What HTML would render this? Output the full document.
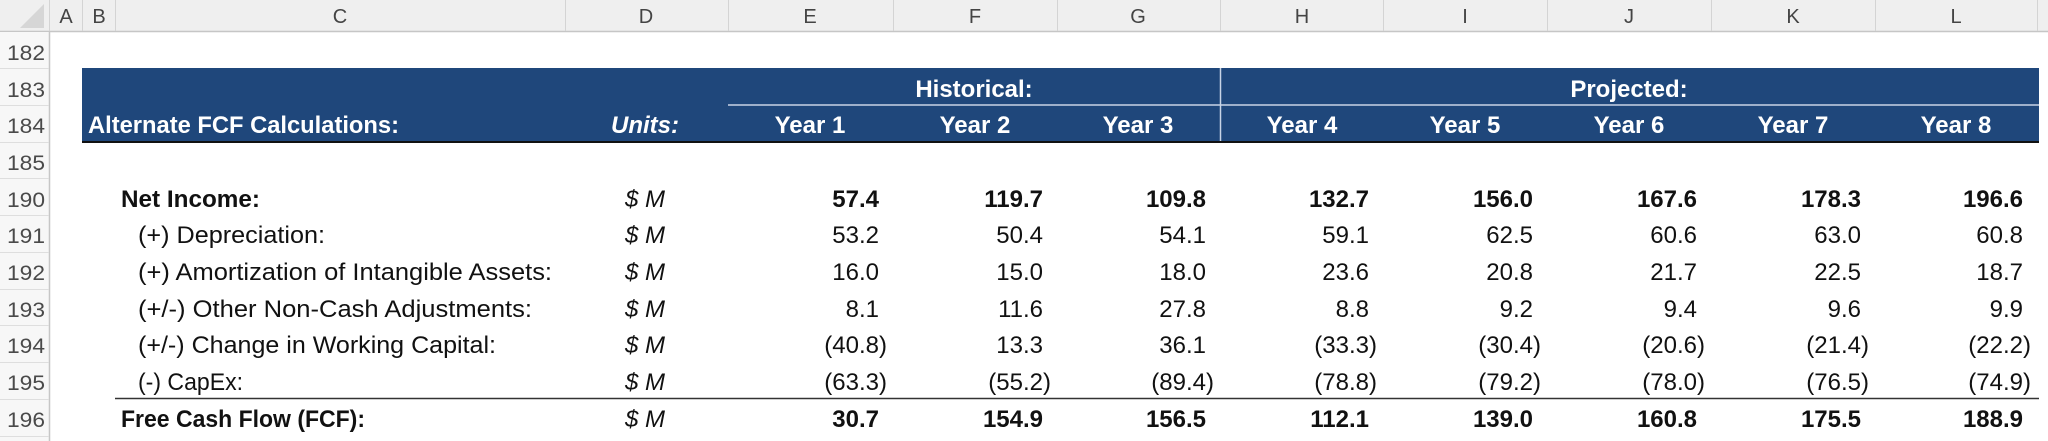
<!DOCTYPE html>
<html><head><meta charset="utf-8"><style>
html,body{margin:0;padding:0;background:#fff;}
svg{display:block;}
text{font-family:"Liberation Sans",Arial,sans-serif;}
</style></head><body>
<svg width="2048" height="441" viewBox="0 0 2048 441" xmlns="http://www.w3.org/2000/svg">
<!-- column header -->
<rect x="0" y="0" width="2048" height="31" fill="#efefef"/>
<line x1="0" y1="31.5" x2="2048" y2="31.5" stroke="#c6c6c6" stroke-width="1.5"/>
<polygon points="44,4 44,28 20,28" fill="#d6d6d6"/>
<g stroke="#d4d4d4" stroke-width="1">
<line x1="49.5" y1="0" x2="49.5" y2="31"/><line x1="82.5" y1="0" x2="82.5" y2="31"/><line x1="115.5" y1="0" x2="115.5" y2="31"/>
<line x1="565.5" y1="0" x2="565.5" y2="31"/><line x1="728.5" y1="0" x2="728.5" y2="31"/><line x1="893.5" y1="0" x2="893.5" y2="31"/>
<line x1="1057.5" y1="0" x2="1057.5" y2="31"/><line x1="1220.5" y1="0" x2="1220.5" y2="31"/><line x1="1383.5" y1="0" x2="1383.5" y2="31"/>
<line x1="1547.5" y1="0" x2="1547.5" y2="31"/><line x1="1711.5" y1="0" x2="1711.5" y2="31"/><line x1="1875.5" y1="0" x2="1875.5" y2="31"/>
<line x1="2037.5" y1="0" x2="2037.5" y2="31"/>
</g>
<g fill="#444" font-size="20" text-anchor="middle">
<text x="66" y="23">A</text><text x="99" y="23">B</text><text x="340" y="23">C</text><text x="646" y="23">D</text>
<text x="810" y="23">E</text><text x="975" y="23">F</text><text x="1138" y="23">G</text><text x="1302" y="23">H</text>
<text x="1465" y="23">I</text><text x="1629" y="23">J</text><text x="1793" y="23">K</text><text x="1956" y="23">L</text>
<text x="2047" y="23" text-anchor="start">M</text>
</g>
<!-- row header -->
<rect x="0" y="32" width="49" height="409" fill="#f7f7f7"/>
<line x1="49.5" y1="32" x2="49.5" y2="441" stroke="#c6c6c6" stroke-width="1.5"/>
<g stroke="#dedede" stroke-width="1">
<line x1="0" y1="68.5" x2="49" y2="68.5"/><line x1="0" y1="105.5" x2="49" y2="105.5"/><line x1="0" y1="142.5" x2="49" y2="142.5"/>
<line x1="0" y1="178.5" x2="49" y2="178.5"/><line x1="0" y1="215.5" x2="49" y2="215.5"/><line x1="0" y1="252.5" x2="49" y2="252.5"/>
<line x1="0" y1="289.5" x2="49" y2="289.5"/><line x1="0" y1="325.5" x2="49" y2="325.5"/><line x1="0" y1="362.5" x2="49" y2="362.5"/>
<line x1="0" y1="399.5" x2="49" y2="399.5"/><line x1="0" y1="436.5" x2="49" y2="436.5"/>
</g>
<g fill="#4a4a4a" font-size="21">
<text x="7" y="60" textLength="38" lengthAdjust="spacingAndGlyphs">182</text>
<text x="7" y="97" textLength="38" lengthAdjust="spacingAndGlyphs">183</text>
<text x="7" y="133" textLength="38" lengthAdjust="spacingAndGlyphs">184</text>
<text x="7" y="170" textLength="38" lengthAdjust="spacingAndGlyphs">185</text>
<text x="7" y="207" textLength="38" lengthAdjust="spacingAndGlyphs">190</text>
<text x="7" y="243" textLength="38" lengthAdjust="spacingAndGlyphs">191</text>
<text x="7" y="280" textLength="38" lengthAdjust="spacingAndGlyphs">192</text>
<text x="7" y="317" textLength="38" lengthAdjust="spacingAndGlyphs">193</text>
<text x="7" y="353" textLength="38" lengthAdjust="spacingAndGlyphs">194</text>
<text x="7" y="390" textLength="38" lengthAdjust="spacingAndGlyphs">195</text>
<text x="7" y="427" textLength="38" lengthAdjust="spacingAndGlyphs">196</text>
</g>
<!-- blue band -->
<rect x="82" y="68" width="1957" height="74" fill="#1f477b"/>
<line x1="82" y1="142" x2="2039" y2="142" stroke="#111" stroke-width="2"/>
<line x1="728" y1="105" x2="2039" y2="105" stroke="#c8d4e6" stroke-width="1.5"/>
<line x1="1220.5" y1="68" x2="1220.5" y2="141" stroke="#c8d4e6" stroke-width="1.5"/>
<g fill="#fff" font-size="24" font-weight="bold">
<text x="88" y="133" textLength="311" lengthAdjust="spacingAndGlyphs">Alternate FCF Calculations:</text>
<text x="645" y="133" text-anchor="middle" font-style="italic">Units:</text>
<g text-anchor="middle">
<text x="974" y="97">Historical:</text>
<text x="1629" y="97">Projected:</text>
<text x="810" y="133">Year 1</text><text x="975" y="133">Year 2</text><text x="1138" y="133">Year 3</text>
<text x="1302" y="133">Year 4</text><text x="1465" y="133">Year 5</text><text x="1629" y="133">Year 6</text>
<text x="1793" y="133">Year 7</text><text x="1956" y="133">Year 8</text>
</g>
</g>
<!-- labels -->
<g fill="#111" font-size="24">
<text x="121" y="207" font-weight="bold" textLength="139" lengthAdjust="spacingAndGlyphs">Net Income:</text>
<text x="138" y="243" textLength="187" lengthAdjust="spacingAndGlyphs">(+) Depreciation:</text>
<text x="138" y="280" textLength="414" lengthAdjust="spacingAndGlyphs">(+) Amortization of Intangible Assets:</text>
<text x="138" y="317" textLength="394" lengthAdjust="spacingAndGlyphs">(+/-) Other Non-Cash Adjustments:</text>
<text x="138" y="353" textLength="358" lengthAdjust="spacingAndGlyphs">(+/-) Change in Working Capital:</text>
<text x="138" y="390" textLength="105" lengthAdjust="spacingAndGlyphs">(-) CapEx:</text>
<text x="121" y="427" font-weight="bold" textLength="244" lengthAdjust="spacingAndGlyphs">Free Cash Flow (FCF):</text>
</g>
<g fill="#111" font-size="24" font-style="italic" text-anchor="middle">
<text x="645" y="207">$ M</text><text x="645" y="243">$ M</text><text x="645" y="280">$ M</text>
<text x="645" y="317">$ M</text><text x="645" y="353">$ M</text><text x="645" y="390">$ M</text><text x="645" y="427">$ M</text>
</g>
<line x1="115" y1="398.5" x2="2039" y2="398.5" stroke="#333" stroke-width="1.5"/>
<!-- numbers: positive end at colRight-14, negative end at colRight-6 -->
<g fill="#111" font-size="24" text-anchor="end">
<g font-weight="bold">
<text x="879" y="207">57.4</text><text x="1043" y="207">119.7</text><text x="1206" y="207">109.8</text>
<text x="1369" y="207">132.7</text><text x="1533" y="207">156.0</text><text x="1697" y="207">167.6</text>
<text x="1861" y="207">178.3</text><text x="2023" y="207">196.6</text>
<text x="879" y="427">30.7</text><text x="1043" y="427">154.9</text><text x="1206" y="427">156.5</text>
<text x="1369" y="427">112.1</text><text x="1533" y="427">139.0</text><text x="1697" y="427">160.8</text>
<text x="1861" y="427">175.5</text><text x="2023" y="427">188.9</text>
</g>
<text x="879" y="243">53.2</text><text x="1043" y="243">50.4</text><text x="1206" y="243">54.1</text>
<text x="1369" y="243">59.1</text><text x="1533" y="243">62.5</text><text x="1697" y="243">60.6</text>
<text x="1861" y="243">63.0</text><text x="2023" y="243">60.8</text>
<text x="879" y="280">16.0</text><text x="1043" y="280">15.0</text><text x="1206" y="280">18.0</text>
<text x="1369" y="280">23.6</text><text x="1533" y="280">20.8</text><text x="1697" y="280">21.7</text>
<text x="1861" y="280">22.5</text><text x="2023" y="280">18.7</text>
<text x="879" y="317">8.1</text><text x="1043" y="317">11.6</text><text x="1206" y="317">27.8</text>
<text x="1369" y="317">8.8</text><text x="1533" y="317">9.2</text><text x="1697" y="317">9.4</text>
<text x="1861" y="317">9.6</text><text x="2023" y="317">9.9</text>
<text x="887" y="353">(40.8)</text><text x="1043" y="353">13.3</text><text x="1206" y="353">36.1</text>
<text x="1377" y="353">(33.3)</text><text x="1541" y="353">(30.4)</text><text x="1705" y="353">(20.6)</text>
<text x="1869" y="353">(21.4)</text><text x="2031" y="353">(22.2)</text>
<text x="887" y="390">(63.3)</text><text x="1051" y="390">(55.2)</text><text x="1214" y="390">(89.4)</text>
<text x="1377" y="390">(78.8)</text><text x="1541" y="390">(79.2)</text><text x="1705" y="390">(78.0)</text>
<text x="1869" y="390">(76.5)</text><text x="2031" y="390">(74.9)</text>
</g>
</svg>
</body></html>
